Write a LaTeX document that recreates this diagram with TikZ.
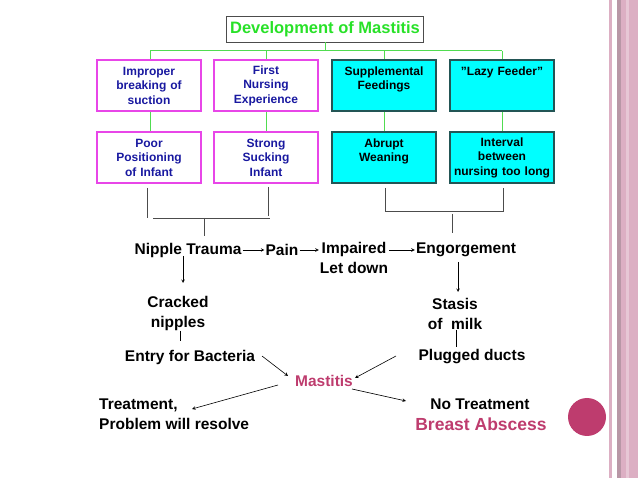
\documentclass[tikz,border=0pt]{standalone}
\usepackage{fontspec}
\setmainfont{Liberation Sans}
\usetikzlibrary{positioning}
\definecolor{boxpink}{RGB}{232,70,232}
\definecolor{boxblue}{RGB}{25,25,160}
\definecolor{teal}{RGB}{35,85,85}
\definecolor{boxcyan}{RGB}{0,255,255}
\definecolor{busgreen}{RGB}{80,220,80}
\definecolor{titlegreen}{RGB}{40,225,40}
\definecolor{rose}{RGB}{190,60,110}
\definecolor{stripe}{RGB}{220,175,195}
\tikzset{
  pinkbox/.style={draw=boxpink, line width=2pt, fill=white, text=boxblue, minimum width=104pt, minimum height=51pt, text width=102pt, align=center, inner sep=1pt, font=\fontsize{12}{14.5}\selectfont\bfseries},
  cyanbox/.style={pinkbox, draw=teal, fill=boxcyan, text=black},
  lbl/.style={font=\fontsize{15.5}{20}\selectfont\bfseries, align=center, inner sep=1pt},
  bus/.style={busgreen, line width=1pt},
  brk/.style={black!70, line width=0.8pt},
  arr/.style={->, >=stealth, line width=0.6pt}
}
\begin{document}
\begin{tikzpicture}[x=1pt,y=-1pt]
  \useasboundingbox (0,0) rectangle (638,478);
  % side stripes
  \fill[stripe] (609,0) rectangle (612,478);
  \fill[stripe!80!black!90] (617,0) rectangle (621,478);
  \fill[stripe] (621,0) rectangle (638,478);
  \fill[stripe!70!white] (626,0) rectangle (629,478);
  \fill[rose] (587,417) circle (19);

  % title and bus
  \node[draw=black!70, line width=0.8pt, text=titlegreen, font=\fontsize{16.5}{18}\selectfont\bfseries, minimum width=196pt, minimum height=26pt] (title) at (325,29) {Development of Mastitis};
  \draw[bus] (title.south) -- (325,51) coordinate (bus);
  \draw[bus] (150,51) -- (502,51);
  \foreach \x in {150,266,384,502} \draw[bus] (\x,51) -- (\x,158);

  % boxes
  \node[pinkbox] (improper) at (149,85.5) {Improper\\breaking of\\suction};
  \node[pinkbox] (first) at (266,85.5) {First\\Nursing\\Experience};
  \node[cyanbox] (suppl) at (384,85.5) {Supplemental\\Feedings\\\mbox{}};
  \node[cyanbox] (lazy) at (502,85.5) {"Lazy Feeder"\\\mbox{}\\\mbox{}};
  \node[pinkbox] (poor) at (149,157.5) {Poor\\Positioning\\of Infant};
  \node[pinkbox] (strong) at (266,157.5) {Strong\\Sucking\\Infant};
  \node[cyanbox] (abrupt) at (384,157.5) {Abrupt\\Weaning\\\mbox{}};
  \node[cyanbox] (interval) at (502,157.5) {Interval\\between\\nursing too long};

  % brackets
  \draw[brk] (147,188) -- (147,218);
  \draw[brk] (268,187) -- (268,216);
  \draw[brk] (153,218) -- (270,218);
  \draw[brk] (204,218) -- (204,236);
  \draw[brk] (385,188) -- (385,211) -- (503,211) -- (503,188);
  \draw[brk] (452,214) -- (452,233);

  % flow
  \node[lbl] (trauma) at (188,250) {Nipple Trauma};
  \node[lbl] (pain) at (282,250) {Pain};
  \node[lbl, anchor=north] (impaired) at (354,241) {Impaired\\Let down};
  \node[lbl] (engorge) at (466,250) {Engorgement};
  \draw[arr] (trauma.east) -- (pain.west);
  \draw[arr] (pain.east) -- (impaired.north west |- pain.east);
  \draw[arr] (impaired.north east |- engorge.west) -- (engorge.west);

  \node[lbl] (cracked) at (178,313) {Cracked\\nipples};
  \node[lbl] (stasis) at (455,314) {Stasis\\of\ \ milk};
  \draw[arr] (183,256) -- (183,283);
  \draw[arr] (458,262) -- (458,292);
  \node[lbl] (entry) at (190,357) {Entry for Bacteria};
  \node[lbl] (plugged) at (472,357) {Plugged ducts};
  \draw[line width=0.6pt] (180,331) -- (180,341);
  \draw[line width=0.6pt] (456,330) -- (456,347);

  \node[lbl, text=rose, font=\fontsize{15.5}{17}\selectfont\bfseries] (mastitis) at (324,381) {Mastitis};
  \draw[arr] (262,356) -- (288,376);
  \draw[arr] (396,356) -- (355,378);

  \node[lbl, anchor=west, align=left] (treat) at (98,414) {Treatment,\\Problem will resolve};
  \node[lbl] (notreat) at (480,404) {No Treatment};
  \node[lbl, text=rose, font=\fontsize{17.5}{19}\selectfont\bfseries] (abscess) at (481,424) {Breast Abscess};
  \draw[arr] (278,385) -- (192,409);
  \draw[arr] (352,389) -- (406,401);
\end{tikzpicture}
\end{document}
